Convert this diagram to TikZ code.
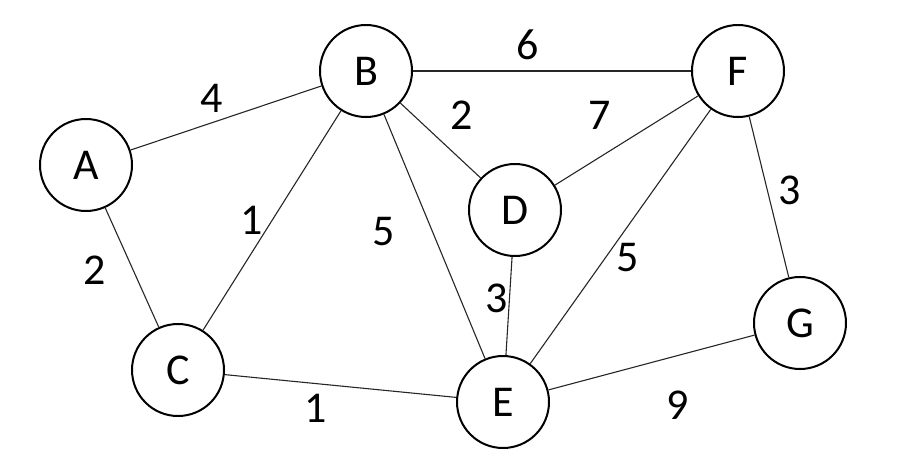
\documentclass[tikz,border=0pt]{standalone}
\usepackage{fontspec}
\setmainfont{Carlito}
\begin{document}
\begin{tikzpicture}[x=1pt,y=-1pt,
  vtx/.style={circle,draw=black,line width=2pt,minimum size=92pt,inner sep=0pt,font=\fontsize{44}{44}\selectfont},
  edge/.style={draw=black!85,line width=1.1pt},
  wlabel/.style={font=\fontsize{44}{44}\selectfont,inner sep=0pt}]
\useasboundingbox (0,0) rectangle (911,472);
\node[vtx] (A) at (86,165) {A};
\node[vtx] (B) at (366,71) {B};
\node[vtx] (F) at (738,71) {F};
\node[vtx] (D) at (515,210) {D};
\node[vtx] (C) at (178,370) {C};
\node[vtx] (E) at (503,402) {E};
\node[vtx] (G) at (800,323) {G};
\draw[edge] (A) -- (B);
\draw[edge] (A) -- (C);
\draw[edge] (B) -- (C);
\draw[edge] (B) -- (E);
\draw[edge] (B) -- (D);
\draw[edge] (B) -- (F);
\draw[edge] (D) -- (F);
\draw[edge] (D) -- (E);
\draw[edge] (F) -- (E);
\draw[edge] (F) -- (G);
\draw[edge] (C) -- (E);
\draw[edge] (E) -- (G);
\node[wlabel] (lAB) at (212,98) {4};
\node[wlabel] (lBF) at (528,45) {6};
\node[wlabel] (lBD) at (462,115) {2};
\node[wlabel] (lDF) at (600,115) {7};
\node[wlabel] (lBC) at (252,220) {1};
\node[wlabel] (lBE) at (384,232) {5};
\node[wlabel] (lFG) at (790,190) {3};
\node[wlabel] (lFE) at (628,258) {5};
\node[wlabel] (lAC) at (95,270) {2};
\node[wlabel] (lDE) at (497,298) {3};
\node[wlabel] (lCE) at (316,408) {1};
\node[wlabel] (lEG) at (678,405) {9};
\end{tikzpicture}
\end{document}
